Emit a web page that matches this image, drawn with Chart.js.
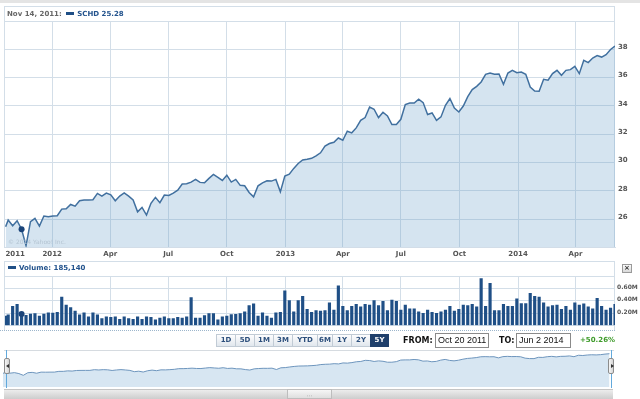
<!DOCTYPE html>
<html>
<head>
<meta charset="utf-8">
<script src="https://cdn.jsdelivr.net/npm/chart.js@4.4.1/dist/chart.umd.min.js"></script>
<style>
  body { margin: 0; width: 640px; height: 399px; position: relative; overflow: hidden; background: #fff; font-family: "DejaVu Sans", sans-serif; }
  .abs { position: absolute; }
  canvas { position: absolute; left: 0; }
  #topbar { left: 0; top: 0; width: 640px; height: 3px; background: #e4e4e4; }
  .box { border: 1px solid #d3dee8; border-bottom: none; box-sizing: border-box; }
  .head { font-size: 7px; font-weight: bold; color: #666; white-space: nowrap; line-height: 9px; z-index: 2; }
  .sw { display: inline-block; width: 8px; height: 3px; background: #1f4f86; vertical-align: middle; margin: 0 3px 1px 2px; }
  .blue { color: #23538d; }
  #wm { left: 8px; top: 238px; font-size: 6px; line-height: 8px; color: #b4c4d2; z-index: 2; white-space: nowrap; }
  #closeBtn { left: 622px; top: 264px; width: 10px; height: 9px; box-sizing: border-box; border: 1px solid #9a9a9a; background: linear-gradient(#fafafa, #d9d9d9); font-size: 7px; line-height: 7px; text-align: center; font-weight: bold; color: #333; }
  #dots { left: 0; top: 330px; width: 615px; height: 0; border-top: 1px dotted #9db6cc; }
  #ranges { left: 216px; top: 334px; height: 13px; display: flex; }
  .rb { box-sizing: border-box; height: 13px; border: 1px solid #c1cbd5; margin-right: -1px; background: linear-gradient(#fdfdfe, #e1e7ed); color: #2c4f7c; font-size: 7px; font-weight: bold; line-height: 11px; text-align: center; }
  .rb.on { background: #1f3f6b; border-color: #1f3f6b; color: #fff; }
  .lbl { font-size: 8px; font-weight: bold; color: #111; line-height: 10px; white-space: nowrap; }
  .inp { box-sizing: border-box; height: 15px; border: 1px solid #8a8a8a; font-family: "Liberation Sans", sans-serif; font-size: 9px; line-height: 13px; padding-left: 2px; color: #111; white-space: nowrap; }
  #pct { left: 580px; top: 336px; font-size: 7px; font-weight: bold; color: #3c9a28; line-height: 9px; }
  #navBox { left: 4px; top: 350px; width: 610px; height: 38px; border-top: 1px solid #d6dbe0; }
  .edge { top: 350px; width: 1px; height: 38px; background: #62a9dc; z-index: 2; }
  .handle { top: 358px; width: 6px; height: 16px; box-sizing: border-box; border: 1px solid #8c8c8c; border-radius: 2px; background: linear-gradient(90deg, #f6f6f6, #d6d6d6); z-index: 3; }
  .tri { position: absolute; top: 5px; width: 0; height: 0; border-top: 2px solid transparent; border-bottom: 2px solid transparent; }
  #scroll { left: 4px; top: 389px; width: 609px; height: 10px; background: linear-gradient(#ececec, #cdcdcd); border-top: 1px solid #c4c4c4; box-sizing: border-box; }
  #thumb { left: 287px; top: 389px; width: 45px; height: 10px; box-sizing: border-box; border: 1px solid #bdbdbd; background: linear-gradient(#f6f6f6, #dedede); font-size: 6px; line-height: 12px; text-align: center; color: #9a9a9a; }
</style>
</head>
<body>
<div id="topbar" class="abs"></div>

<div class="abs box" style="left:4px;top:6px;width:611px;height:242px;"></div>
<canvas id="price" width="640" height="262" style="top:0"></canvas>
<div class="abs head" style="left:7px;top:9.5px;">Nov 14, 2011: <span class="sw"></span><span class="blue">SCHD 25.28</span></div>
<div id="wm" class="abs">© 2014 Yahoo! Inc.</div>

<div class="abs box" style="left:4px;top:261px;width:611px;height:70px;"></div>
<canvas id="volume" width="640" height="70" style="top:261px"></canvas>
<div class="abs head" style="left:6px;top:263.5px;"><span class="sw"></span><span class="blue">Volume: 185,140</span></div>
<div id="closeBtn" class="abs">×</div>
<div id="dots" class="abs"></div>

<div id="ranges" class="abs">
  <div class="rb" style="width:20px">1D</div>
  <div class="rb" style="width:20px">5D</div>
  <div class="rb" style="width:20px">1M</div>
  <div class="rb" style="width:20px">3M</div>
  <div class="rb" style="width:26px">YTD</div>
  <div class="rb" style="width:16px">6M</div>
  <div class="rb" style="width:20px">1Y</div>
  <div class="rb" style="width:20px">2Y</div>
  <div class="rb on" style="width:19px">5Y</div>
</div>
<div class="abs lbl" style="left:403px;top:336px;">FROM:</div>
<div class="abs inp" style="left:435px;top:333px;width:54px;">Oct 20 2011</div>
<div class="abs lbl" style="left:499px;top:336px;">TO:</div>
<div class="abs inp" style="left:516px;top:333px;width:55px;">Jun 2 2014</div>
<div id="pct" class="abs">+50.26%</div>

<div id="navBox" class="abs"></div>
<canvas id="nav" width="640" height="36" style="top:351px"></canvas>
<div class="abs edge" style="left:6px"></div>
<div class="abs edge" style="left:611px"></div>
<div class="abs handle" style="left:4px"><div class="tri" style="left:1px;border-right:3px solid #333;"></div></div>
<div class="abs handle" style="left:608px"><div class="tri" style="left:2px;border-left:3px solid #333;"></div></div>
<div id="scroll" class="abs"></div>
<div id="thumb" class="abs">···</div>

<script>
// SCHD weekly closes: first value is Oct 20 2011, then every Monday Oct 24 2011 .. Jun 2 2014
const closes = [
  25.45, 25.93, 25.52, 25.88, 25.28, 24.12, 25.81, 26.05, 25.50, 26.21,
  26.16, 26.21, 26.23, 26.70, 26.72, 27.03, 26.91, 27.29, 27.34, 27.35,
  27.36, 27.81, 27.62, 27.83, 27.71, 27.29, 27.62, 27.85, 27.62, 27.34,
  26.51, 26.82, 26.28, 27.11, 27.53, 27.15, 27.69, 27.67, 27.83, 28.04,
  28.47, 28.49, 28.61, 28.80, 28.59, 28.56, 28.87, 29.15, 28.94, 28.73,
  29.10, 28.61, 28.80, 28.38, 28.35, 27.88, 27.57, 28.35, 28.56, 28.70,
  28.68, 28.80, 27.92, 29.03, 29.17, 29.58, 29.93, 30.18, 30.23, 30.29,
  30.46, 30.68, 31.15, 31.34, 31.43, 31.73, 31.57, 32.21, 32.09, 32.44,
  32.98, 33.17, 33.92, 33.76, 33.17, 33.55, 33.29, 32.68, 32.68, 33.05,
  34.09, 34.20, 34.20, 34.47, 34.23, 33.39, 33.50, 32.98, 33.22, 34.04,
  34.52, 33.85, 33.57, 33.99, 34.65, 35.15, 35.38, 35.69, 36.23, 36.32,
  36.23, 36.25, 35.52, 36.32, 36.51, 36.35, 36.39, 36.23, 35.33, 35.05,
  35.03, 35.88, 35.81, 36.28, 36.51, 36.16, 36.51, 36.56, 36.79, 36.28,
  37.22, 37.06, 37.38, 37.55, 37.45, 37.62, 37.99, 38.23
];

// weekly volume, millions of shares (same weeks as closes)
const volumes = [
  0.15, 0.17, 0.31, 0.34, 0.185, 0.165, 0.185, 0.19, 0.15, 0.185,
  0.205, 0.20, 0.21, 0.46, 0.33, 0.29, 0.23, 0.17, 0.205, 0.14,
  0.205, 0.17, 0.11, 0.14, 0.13, 0.14, 0.10, 0.14, 0.11, 0.10,
  0.14, 0.10, 0.14, 0.13, 0.09, 0.12, 0.14, 0.11, 0.11, 0.13,
  0.12, 0.14, 0.45, 0.12, 0.12, 0.16, 0.19, 0.19, 0.09, 0.14,
  0.15, 0.175, 0.18, 0.19, 0.22, 0.32, 0.35, 0.15, 0.205, 0.15,
  0.12, 0.205, 0.21, 0.56, 0.40, 0.22, 0.40, 0.47, 0.26, 0.21,
  0.24, 0.23, 0.24, 0.365, 0.25, 0.64, 0.31, 0.24, 0.31, 0.34,
  0.30, 0.34, 0.33, 0.40, 0.32, 0.39, 0.24, 0.41, 0.39, 0.25,
  0.33, 0.27, 0.27, 0.22, 0.195, 0.25, 0.21, 0.195, 0.22, 0.25,
  0.31, 0.23, 0.26, 0.33, 0.32, 0.34, 0.30, 0.76, 0.31, 0.68,
  0.24, 0.24, 0.34, 0.31, 0.31, 0.43, 0.355, 0.355, 0.52, 0.47,
  0.46, 0.365, 0.30, 0.32, 0.33, 0.26, 0.31, 0.25, 0.365, 0.33,
  0.35, 0.30, 0.27, 0.44, 0.31, 0.25, 0.28, 0.34
];

// x axis: days since Oct 20 2011
const quarterDays = [15, 73, 164, 255, 347, 439, 529, 620, 712, 804, 894];
const quarterLabels = ['2011', '2012', 'Apr', 'Jul', 'Oct', '2013', 'Apr', 'Jul', 'Oct', '2014', 'Apr'];
const navDays = [0, 73, 439, 804];
const navLabels = ['2011', '2012', '2013', '2014'];

const markerIndex = 4; // Nov 14, 2011

const gridColor = '#d3dee8';
const lineColor = '#41709f';
const fillColor = 'rgba(100,155,200,0.27)';
const barColor = '#1f4f86';
const markerColor = '#1b4479';

Chart.defaults.font.family = '"DejaVu Sans", sans-serif';
Chart.defaults.font.size = 7;
Chart.defaults.font.weight = 'bold';
Chart.defaults.color = '#555';
Chart.defaults.animation = false;
Chart.defaults.plugins.legend.display = false;
Chart.defaults.plugins.tooltip.enabled = false;

const days = closes.map((_, i) => i === 0 ? 0 : 4 + 7 * (i - 1));
const pricePoints = days.map((d, i) => ({ x: d, y: closes[i] }));
const volPoints = days.map((d, i) => ({ x: d, y: volumes[i] }));

function quarterAxis(showLabels) {
  return {
    type: 'linear',
    min: -1,
    max: 956,
    offset: false,
    afterBuildTicks: s => { s.ticks = quarterDays.map(v => ({ value: v })); },
    afterFit: s => { s.height = showLabels ? 14.7 : 0; },
    grid: { offset: false, drawTicks: false, color: c => c.index === 0 ? 'rgba(0,0,0,0)' : gridColor },
    border: { display: showLabels, color: gridColor },
    ticks: { display: showLabels, autoSkip: false, maxRotation: 0, padding: 3, callback: (v, i) => quarterLabels[i] }
  };
}

new Chart(document.getElementById('price'), {
  type: 'line',
  data: {
    datasets: [{
      data: pricePoints,
      borderColor: lineColor,
      borderWidth: 1.5,
      backgroundColor: fillColor,
      fill: 'start',
      tension: 0,
      pointRadius: c => c.dataIndex === markerIndex ? 3 : 0,
      pointBackgroundColor: markerColor,
      pointBorderWidth: 0
    }]
  },
  options: {
    responsive: false,
    layout: { padding: { left: 5, top: 21, right: 0, bottom: 0 } },
    scales: {
      x: quarterAxis(true),
      y: {
        position: 'right',
        min: 24,
        max: 40,
        afterFit: s => { s.width = 25; },
        grid: { color: gridColor, drawTicks: false },
        border: { display: false },
        ticks: { stepSize: 2, padding: 3, labelOffset: -2, callback: v => (v === 24 || v === 40) ? '' : v }
      }
    }
  }
});

new Chart(document.getElementById('volume'), {
  type: 'bar',
  data: {
    datasets: [
      {
        type: 'line',
        data: volPoints,
        showLine: false,
        pointRadius: c => c.dataIndex === markerIndex ? 3 : 0,
        pointBackgroundColor: markerColor,
        pointBorderWidth: 0
      },
      {
        type: 'bar',
        data: volPoints,
        backgroundColor: barColor,
        barThickness: 2.5
      }
    ]
  },
  options: {
    responsive: false,
    layout: { padding: { left: 5, top: 15, right: 0, bottom: 0.6 } },
    scales: {
      x: quarterAxis(false),
      y: {
        position: 'right',
        min: 0,
        max: 0.8,
        afterFit: s => { s.width = 25; },
        grid: { color: gridColor, drawTicks: false },
        border: { display: false },
        ticks: { font: { size: 6 }, stepSize: 0.2, padding: 2, labelOffset: -1, callback: v => (v < 0.1 || v > 0.7) ? '' : v.toFixed(2) + 'M' }
      }
    }
  }
});

new Chart(document.getElementById('nav'), {
  type: 'line',
  data: {
    datasets: [{
      data: pricePoints,
      borderColor: '#6d95bd',
      borderWidth: 1,
      backgroundColor: '#d7e6f2',
      fill: 'start',
      tension: 0,
      pointRadius: 0
    }]
  },
  options: {
    responsive: false,
    layout: { padding: { left: 3, right: 28, top: 0, bottom: 0 } },
    scales: {
      x: {
        type: 'linear',
        min: 0,
        max: 960,
        z: 1,
        afterBuildTicks: s => { s.ticks = navDays.map(v => ({ value: v })); },
        afterFit: s => { s.height = 0; },
        grid: { drawTicks: false, lineWidth: 2, color: c => c.index === 0 ? 'rgba(0,0,0,0)' : '#ffffff' },
        border: { display: false },
        ticks: { autoSkip: false, maxRotation: 0, align: 'start', labelOffset: 4, padding: -9, color: '#8c8c8c', callback: (v, i) => navLabels[i] }
      },
      y: { display: false, min: 16.5, max: 40 }
    }
  }
});
</script>
</body>
</html>
